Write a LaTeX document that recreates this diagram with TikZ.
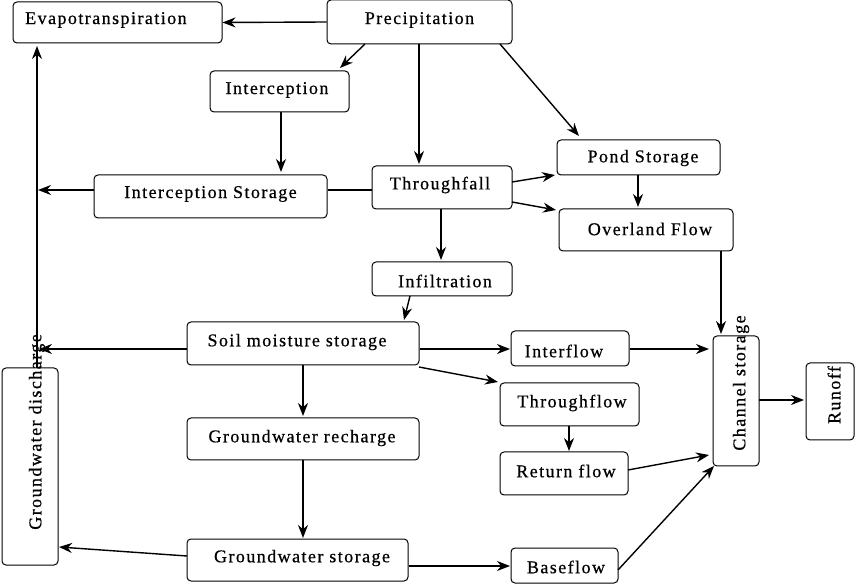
\documentclass[tikz,border=0pt]{standalone}
\usepackage{fontspec}
\setmainfont{Liberation Serif}[LetterSpace=8,FakeBold=0.6]
\usetikzlibrary{arrows.meta}
\begin{document}
\begin{tikzpicture}[x=1pt,y=-1pt,
 box/.style={draw,rounded corners=4pt,line width=1pt},
 arr/.style={line width=1.4pt,-{Stealth[length=13pt,width=10pt]}},
 lab/.style={font=\fontsize{18}{20}\selectfont,inner sep=0}]
\useasboundingbox (0,0) rectangle (855,585);
\node[box,minimum width=209pt,minimum height=41pt] (ev) at (117.5,22.5) {}; \node[lab,anchor=west] at (25,20) {Evapotranspiration};
\node[box,minimum width=185pt,minimum height=44pt] (pr) at (419.5,22) {}; \node[lab] at (419.5,20) {Precipitation};
\node[box,minimum width=139pt,minimum height=41pt] (ic) at (279.5,91.5) {}; \node[lab] at (277,90) {Interception};
\node[box,minimum width=233pt,minimum height=43pt] (is) at (210.5,196.5) {}; \node[lab] at (210.5,194) {Interception Storage};
\node[box,minimum width=140pt,minimum height=43pt] (tf) at (442,187.5) {}; \node[lab] at (440,185) {Throughfall};
\node[box,minimum width=163pt,minimum height=35pt] (ps) at (638.5,157.5) {}; \node[lab] at (643,158) {Pond Storage};
\node[box,minimum width=174pt,minimum height=42pt] (of) at (646,230) {}; \node[lab] at (650,229) {Overland Flow};
\node[box,minimum width=140pt,minimum height=34pt] (inf) at (442,279) {}; \node[lab] at (445,281) {Infiltration};
\node[box,minimum width=232pt,minimum height=43pt] (sm) at (303,343.5) {}; \node[lab] at (297,342) {Soil moisture storage};
\node[box,minimum width=118pt,minimum height=35pt] (if) at (570,348.5) {}; \node[lab] at (564,351) {Interflow};
\node[box,minimum width=139pt,minimum height=43pt] (thf) at (569.5,404.5) {}; \node[lab] at (572,403) {Throughflow};
\node[box,minimum width=128pt,minimum height=43pt] (rf) at (564,473.5) {}; \node[lab] at (566,471) {Return flow};
\node[box,minimum width=232pt,minimum height=42pt] (gr) at (303,439) {}; \node[lab] at (302,438) {Groundwater recharge};
\node[box,minimum width=221pt,minimum height=42pt] (gs) at (297.5,560) {}; \node[lab] at (302,558) {Groundwater storage};
\node[box,minimum width=107pt,minimum height=35pt] (bf) at (564.5,565.5) {}; \node[lab] at (566,567) {Baseflow};
\node[box,minimum width=46pt,minimum height=130pt] (cs) at (736,401) {}; \node[lab,rotate=90] at (741,383) {Channel storage};
\node[box,minimum width=48pt,minimum height=77pt] (ro) at (830,401.5) {}; \node[lab,rotate=90] at (834,395) {Runoff};
\node[box,minimum width=56pt,minimum height=197pt] (gd) at (30,466.5) {}; \node[lab,rotate=90] at (37,432) {Groundwater discharge};
\draw[arr] (pr.west) -- (ev.east);
\draw[arr] (365,44) -- (340,68);
\draw[arr] (419,44) -- (419,164);
\draw[arr] (500,44) -- (579,136);
\draw[arr] (281,112) -- (281,172);
\draw[line width=1.4pt] (tf.west|-0,190) -- (is.east|-0,190);
\draw[arr] (is.west|-0,190) -- (38,190);
\draw[arr] (37,368) -- (37,46);
\draw[arr] (512,182) -- (555,175);
\draw[arr] (512,202) -- (556,210);
\draw[arr] (638,175) -- (638,207);
\draw[arr] (441,209) -- (441,260);
\draw[arr] (410,296) -- (404,320);
\draw[arr] (721,251) -- (721,334);
\draw[arr] (sm.east|-0,349) -- (510,349);
\draw[arr] (if.east|-0,349) -- (709,349);
\draw[arr] (419,367) -- (498,382);
\draw[arr] (569,426) -- (569,451);
\draw[arr] (628,470) -- (709,455);
\draw[arr] (sm.west|-0,349) -- (39,349);
\draw[arr] (303,365) -- (303,416);
\draw[arr] (303,460) -- (303,538);
\draw[arr] (187,556) -- (59,547);
\draw[arr] (gs.east|-0,566) -- (510,566);
\draw[arr] (618,570) -- (714,466);
\draw[arr] (759,400) -- (804,400);
\end{tikzpicture}
\end{document}
